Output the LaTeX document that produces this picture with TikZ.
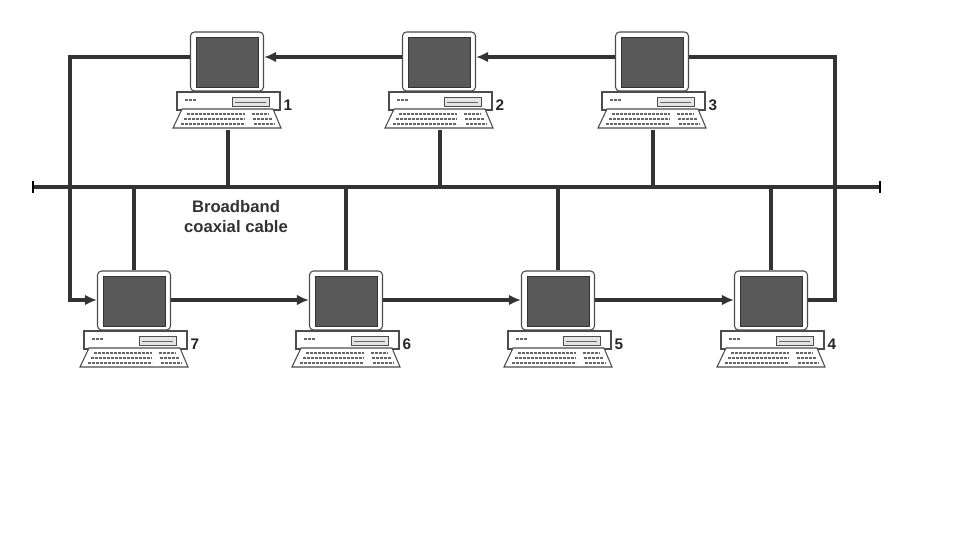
\documentclass[tikz,border=0pt]{standalone}
\usepackage{fontspec}
\setmainfont{Liberation Sans}
\usetikzlibrary{arrows.meta}
\begin{document}
\begin{tikzpicture}[x=0.75pt,y=-0.75pt,
  wire/.style={line width=2.4pt,draw=black!80},
  arr/.style={wire,-{Latex[length=9pt,width=8pt]}},
  monitor/.style={draw=black!70,line width=0.8pt,fill=white,rounded corners=3pt,minimum width=54.75pt,minimum height=44.25pt,inner sep=0pt},
  lbl/.style={font=\bfseries\fontsize{11.5}{13}\selectfont,text=black!85}]
\useasboundingbox (0,0) rectangle (957,538);
\fill[white] (0,0) rectangle (957,538);
\newcommand{\pc}[4]{% name, cx, ty, label
  \node[monitor] (#1) at (#2,#3+29.5) {};
  \fill[black!65,draw=black!80] (#2-31,#3+5) rectangle (#2+31,#3+55);
  \draw[black!70,fill=white,line width=0.8pt] (#2-50,#3+60) rectangle (#2+53,#3+78);
  \draw[black!70,fill=black!10,line width=0.6pt] (#2+5,#3+65) rectangle (#2+42,#3+74);
  \draw[black!60] (#2+8,#3+70) -- (#2+39,#3+70);
  \foreach \d in {0,4,8} \fill[black!60] (#2-42+\d,#3+67) rectangle ++(2.5,2.5);
  \draw[black!70,fill=white,line width=0.8pt] (#2-45,#3+77) -- (#2+46,#3+77) -- (#2+54,#3+96) -- (#2-54,#3+96) -- cycle;
  \draw[black!60,line width=1.2pt,dash pattern=on 2pt off 1pt] (#2-40,#3+82) -- (#2+18,#3+82);
  \draw[black!60,line width=1.2pt,dash pattern=on 2pt off 1pt] (#2-43,#3+87) -- (#2+18,#3+87);
  \draw[black!60,line width=1.2pt,dash pattern=on 2pt off 1pt] (#2-46,#3+92) -- (#2+18,#3+92);
  \draw[black!60,line width=1.2pt,dash pattern=on 2pt off 1pt] (#2+25,#3+82) -- (#2+42,#3+82);
  \draw[black!60,line width=1.2pt,dash pattern=on 2pt off 1pt] (#2+26,#3+87) -- (#2+45,#3+87);
  \draw[black!60,line width=1.2pt,dash pattern=on 2pt off 1pt] (#2+27,#3+92) -- (#2+48,#3+92);
  \node[lbl] (#1l) at (#2+61,#3+73) {#4};
  \coordinate (#1b) at (#2+1,#3+98);
}
\coordinate (busL) at (33,187); \coordinate (busR) at (880,187);
\draw[wire] (busL) -- (busR);
\draw[line width=1.2pt] (33,181) -- (33,193) (880,181) -- (880,193);
\pc{c1}{227}{32}{1}
\pc{c2}{439}{32}{2}
\pc{c3}{652}{32}{3}
\pc{c7}{134}{271}{7}
\pc{c6}{346}{271}{6}
\pc{c5}{558}{271}{5}
\pc{c4}{771}{271}{4}
\foreach \c in {c1,c2,c3} \draw[wire] (\c b) -- (\c b |- busL);
\foreach \c in {c7,c6,c5,c4} \draw[wire] (\c.north) -- (\c.north |- busL);
\coordinate (tr) at (835,57); \coordinate (br) at (835,300);
\coordinate (tl) at (70,57); \coordinate (bl) at (70,300);
\draw[wire] (c3.east |- tr) -- (tr) -- (br) -- (c4.east |- br);
\draw[arr] (c3.west |- tr) -- (c2.east |- tr);
\draw[arr] (c2.west |- tr) -- (c1.east |- tr);
\draw[arr] (c1.west |- tl) -- (tl) -- (bl) -- (c7.west |- bl);
\draw[arr] (c7.east |- bl) -- (c6.west |- bl);
\draw[arr] (c6.east |- bl) -- (c5.west |- bl);
\draw[arr] (c5.east |- bl) -- (c4.west |- bl);
\node[font=\bfseries\fontsize{12.5}{15}\selectfont,text=black!80,align=center] (cap) at (236,217) {Broadband\\coaxial cable};
\end{tikzpicture}
\end{document}
